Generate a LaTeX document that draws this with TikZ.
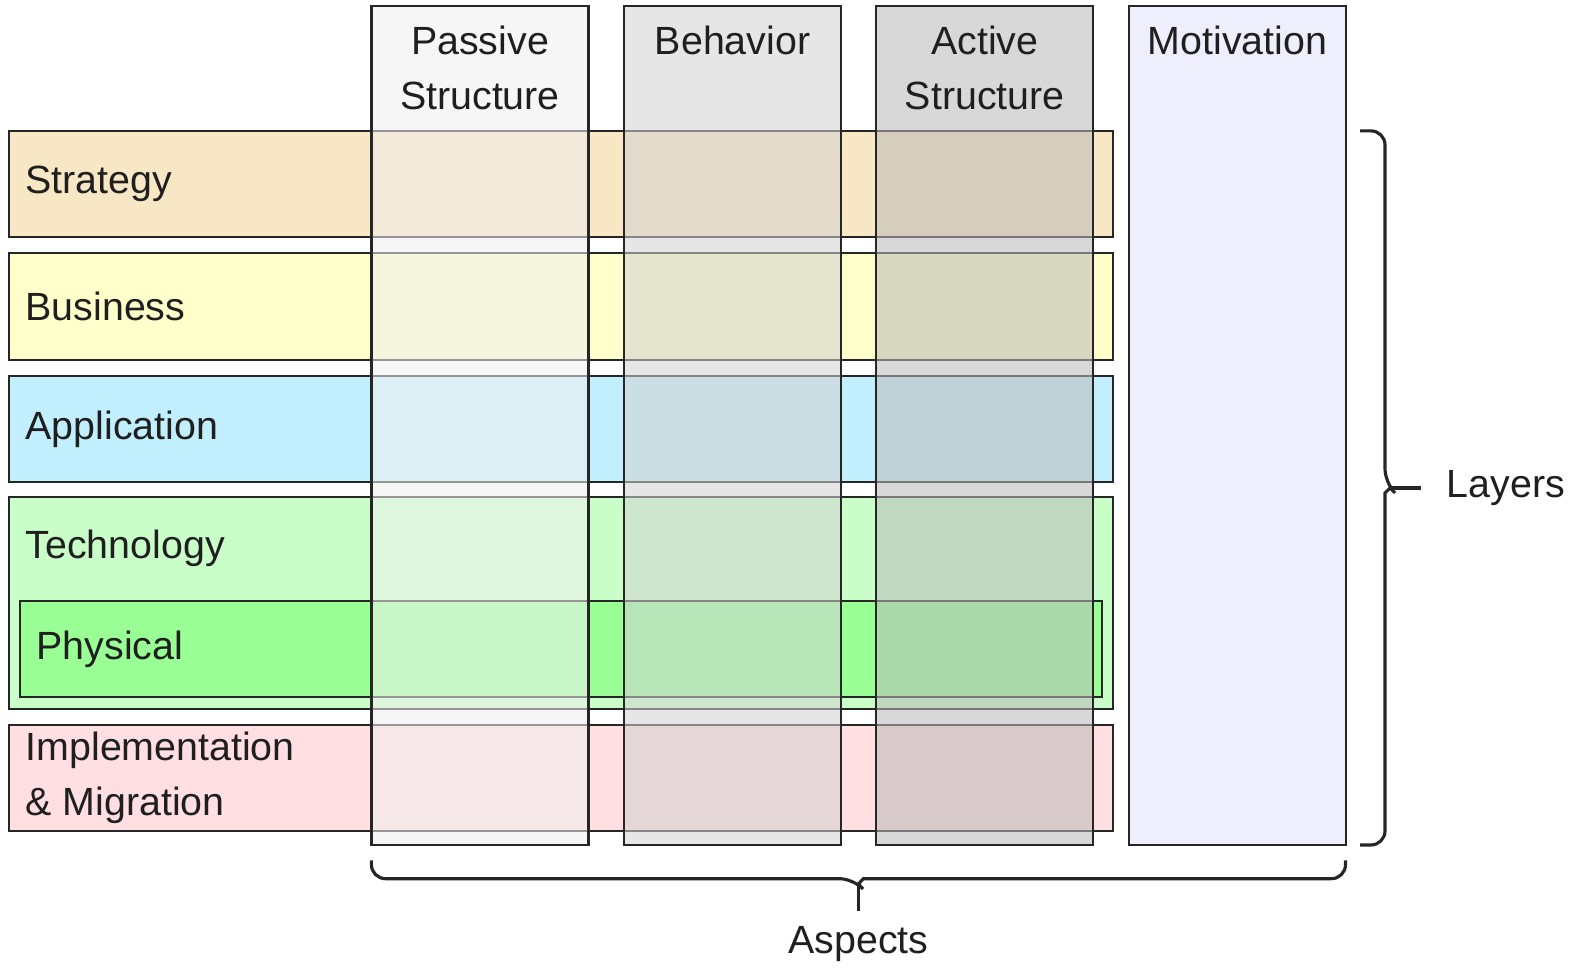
\documentclass[tikz,border=0pt]{standalone}
\usepackage{fontspec}
\setmainfont{Liberation Sans}
\usetikzlibrary{positioning}
\definecolor{strategycol}{HTML}{F8E7C4}
\definecolor{businesscol}{HTML}{FFFFCC}
\definecolor{applicationcol}{HTML}{C2EFFD}
\definecolor{technologycol}{HTML}{C9FEC9}
\definecolor{physicalcol}{HTML}{99FF95}
\definecolor{implcol}{HTML}{FFDFE1}
\definecolor{motivationcol}{HTML}{EFEEFC}
\definecolor{passivecol}{HTML}{EFEFEF}
\definecolor{behaviorcol}{HTML}{D2D2D2}
\definecolor{activecol}{HTML}{BABABA}
\tikzset{
    layer/.style={
        rectangle, draw=black!85, line width=0.6pt,
        minimum width=11.04cm, inner sep=0pt
    },
    aspect/.style={
        rectangle, draw=black!85, line width=0.6pt,
        fill opacity=0.56,
        minimum width=2.17cm, minimum height=8.39cm, inner sep=0pt
    },
    lbl/.style={
        inner sep=0pt, text=black!88,
        font=\fontsize{11.2}{15.6}\selectfont
    },
    brace/.style={draw=black!85, line width=0.9pt}
}

\begin{document}
\begin{tikzpicture}
\useasboundingbox (0,0) rectangle (15.91,9.74);

% Layers
\node[layer, fill=strategycol, minimum height=1.065cm] (strategy) at (5.61,7.90) {};
\node[layer, fill=businesscol, minimum height=1.075cm] (business) at (5.61,6.676) {};
\node[layer, fill=applicationcol, minimum height=1.056cm] (application) at (5.61,5.448) {};
\node[layer, fill=technologycol, minimum height=2.121cm] (technology) at (5.61,3.708) {};
\node[layer, fill=physicalcol, minimum width=10.82cm, minimum height=0.964cm] (physical) at (5.61,3.251) {};
\node[layer, fill=implcol, minimum height=1.055cm] (impl) at (5.61,1.958) {};

\node[lbl, right=0.17cm of strategy.west] (strategytxt) {Strategy};
\node[lbl, right=0.17cm of business.west] (businesstxt) {Business};
\node[lbl, right=0.17cm of application.west] (applicationtxt) {Application};
\node[lbl, below right=0.33cm and 0.17cm of technology.north west] (technologytxt) {Technology};
\node[lbl, right=0.17cm of physical.west] (physicaltxt) {Physical};
\node[lbl, align=left, right=0.17cm of impl.west] (impltxt) {Implementation\\\& Migration};

% Aspects
\node[aspect, fill=passivecol] (passive) at (4.80,5.484) {};
\node[aspect, fill=behaviorcol] (behavior) at (7.326,5.484) {};
\node[aspect, fill=activecol] (active) at (9.848,5.484) {};
\node[aspect, fill=motivationcol, fill opacity=1] (motivation) at (12.375,5.484) {};

\node[lbl, align=center, below=0.2cm of passive.north] (passivetxt) {Passive\\Structure};
\node[lbl, below=0.2cm of behavior.north] (behaviortxt) {Behavior};
\node[lbl, align=center, below=0.2cm of active.north] (activetxt) {Active\\Structure};
\node[lbl, below=0.2cm of motivation.north] (motivationtxt) {Motivation};

% Braces
\coordinate (ltop) at (13.60,8.431);
\coordinate (lbot) at (13.60,1.29);
\coordinate (ltip) at (13.90,4.86);
\coordinate (ltipend) at (14.21,4.86);
\draw[brace] (ltop) [rounded corners=4pt] -| (13.85,4.91) [sharp corners] -- (ltip)
    -- (13.85,4.81) [rounded corners=4pt] |- (lbot);
\draw[brace] (ltip) -- (ltipend);
\node[lbl, right=0.25cm of ltipend] (layers) {Layers};

\coordinate (aleft) at (3.714,1.135);
\coordinate (aright) at (13.455,1.135);
\coordinate (atip) at (8.584,0.90);
\coordinate (atipend) at (8.584,0.628);
\draw[brace] (aleft) [rounded corners=4pt] |- (8.535,0.953) [sharp corners] -- (atip)
    -- (8.633,0.953) [rounded corners=4pt] -| (aright);
\draw[brace] (atip) -- (atipend);
\node[lbl, below=0.15cm of atipend] (aspects) {Aspects};

\end{tikzpicture}
\end{document}
